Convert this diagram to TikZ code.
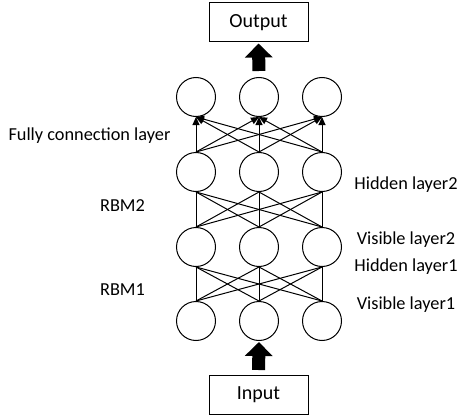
\documentclass[tikz,border=0pt]{standalone}
\usepackage{fontspec}
\setmainfont{Carlito}
\usetikzlibrary{arrows.meta,calc}
\begin{document}
\begin{tikzpicture}[x=1pt,y=-1pt,
  neuron/.style={circle,draw,line width=1pt,minimum size=39pt,inner sep=0pt},
  iobox/.style={draw,line width=1pt,minimum width=99pt,minimum height=39pt,inner sep=0pt,font=\fontsize{20}{22}\selectfont},
  lbl/.style={font=\fontsize{18.3}{20}\selectfont,inner sep=0pt},
  link/.style={line width=1pt},
  alink/.style={line width=1pt,-{Triangle[length=8pt,width=7pt]}},
  blockarrow/.style={line width=13pt,-{Triangle[length=14pt,width=27pt]}}]
\useasboundingbox (0,0) rectangle (474,420);
\node[iobox] (out) at (258.5,22.5) {Output};
\node[iobox] (in) at (258.5,395) {Input};
\foreach \r/\y in {1/97,2/172,3/247,4/321}{
  \foreach \c/\x in {1/196,2/259,3/322}{
    \node[neuron] (n\r\c) at (\x,\y) {};
  }
}
% fully connected with arrows
\foreach \a in {1,2,3}{
  \foreach \b in {1,2,3}{
    \draw[alink] (n2\a.north) -- (n1\b.south);
    \draw[link] (n3\a.north) -- (n2\b.south);
    \draw[link] (n4\a.north) -- (n3\b.south);
  }
}
\draw[blockarrow,shorten <=6pt,shorten >=1pt] (n12.north) -- (out.south);
\draw[blockarrow,shorten <=5pt,shorten >=1pt] (in.north) -- (n42.south);
\node[lbl] (l1) at (89.5,136) {Fully connection layer};
\node[lbl] (l2) at (406,185) {Hidden layer2};
\node[lbl] (l3) at (122.5,206) {RBM2};
\node[lbl] (l4) at (406,240) {Visible layer2};
\node[lbl] (l5) at (406,267) {Hidden layer1};
\node[lbl] (l6) at (122.5,290) {RBM1};
\node[lbl] (l7) at (406,305) {Visible layer1};
\end{tikzpicture}
\end{document}
